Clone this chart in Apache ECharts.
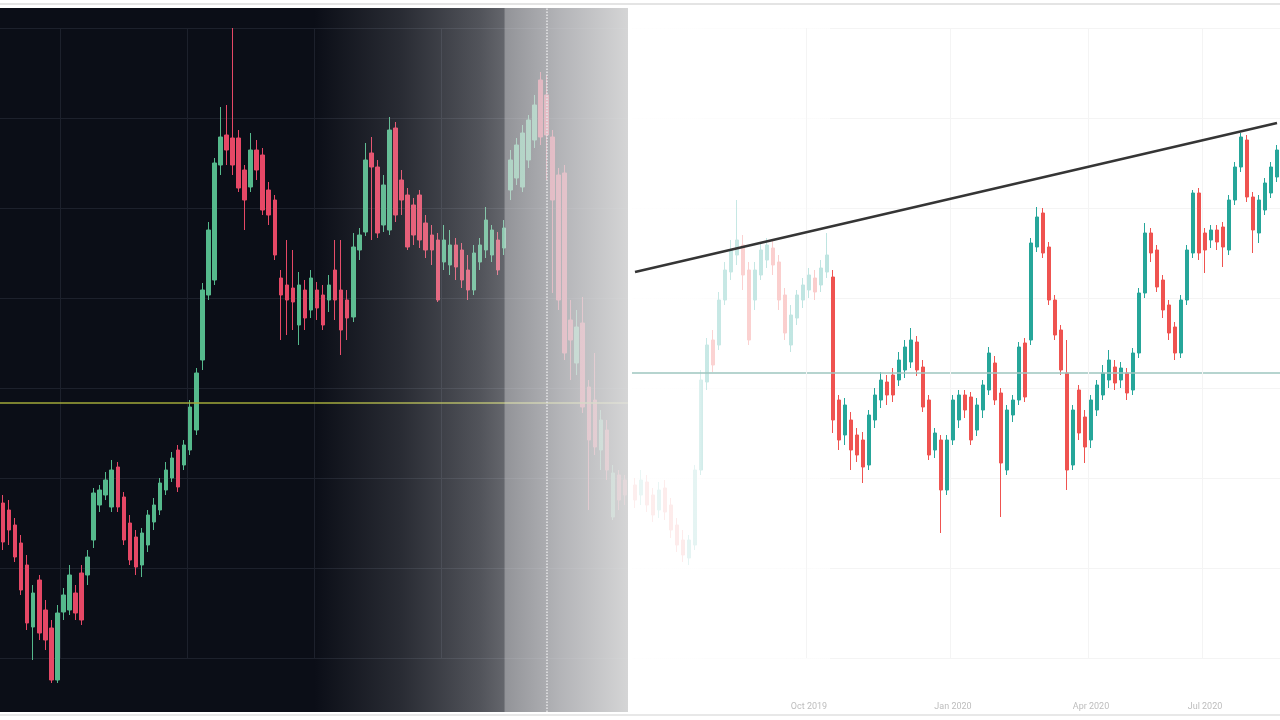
<!DOCTYPE html>
<html>
<head>
<meta charset="utf-8">
<script src="https://cdn.jsdelivr.net/npm/echarts@6/dist/echarts.min.js"></script>
<style>
html,body{margin:0;padding:0;background:#ffffff;}
#c{width:1280px;height:720px;}
</style>
</head>
<body>
<div id="c"></div>
<script>
// ---- Left (dark) chart: [open, close, low, high]
const leftOHLC = [
  [245,206,198,253],[238,218,203,248],[223,191,186,230],[205,158,153,213],[183,125,118,193],
  [121,155,88,163],[168,115,108,173],[138,108,98,148],[120,68,65,128],[68,135,65,143],
  [136,153,128,160],[138,173,133,183],[155,135,128,163],[175,128,123,183],[173,191,163,198],
  [208,255,200,260],[243,258,236,263],[253,268,248,276],[241,278,236,288],[281,241,236,286],
  [251,208,203,256],[225,188,183,233],[211,181,173,218],[183,215,171,220],[203,233,196,238],
  [226,243,218,250],[238,265,233,270],[258,278,253,286],[270,290,266,296],[298,261,256,303],
  [283,303,278,308],[298,341,293,348],[318,375,313,380],[388,458,378,465],[453,518,448,526],
  [468,585,463,590],[583,611,573,641],[613,598,583,643],[610,583,573,720],[610,560,556,618],
  [578,548,518,583],[561,598,556,615],[598,578,568,608],[593,538,533,600],[558,533,523,566],
  [548,493,488,553],[470,453,408,478],[463,448,413,508],[460,446,418,498],[423,463,403,476],
  [458,430,418,468],[438,470,430,478],[458,440,428,466],[453,423,418,463],[448,463,436,473],
  [478,448,428,508],[458,418,393,508],[448,430,408,458],[431,501,426,515],[498,513,488,520],
  [516,588,512,605],[595,581,508,611],[581,515,510,588],[523,563,516,573],[518,618,513,631],
  [620,533,526,626],[568,548,533,578],[553,501,498,560],[543,513,503,550],[553,508,500,558],
  [525,498,490,533],[513,498,483,523],[508,448,446,515],[486,508,478,523],[483,503,473,518],
  [503,481,468,510],[498,468,460,505],[478,458,448,493],[458,495,453,503],[486,503,478,510],
  [498,528,490,541],[493,518,486,523],[508,478,473,516],[500,520,493,528],[558,588,548,598],
  [570,603,563,610],[561,615,556,623],[588,628,580,633],[608,643,600,653],[668,611,603,676],
  [653,613,568,673],[611,548,455,618],[573,448,438,580],[575,395,388,583],[428,408,368,448],
  [385,421,373,438],[425,341,335,451],[361,308,238,368],[348,301,293,395],[298,328,278,338],
  [318,278,268,328],[231,275,228,283],[273,248,238,278],[268,253,243,273]
];
const leftGuideLevel = 345;
const leftCursorIndex = 90;
const leftVGridIndex = [10, 31, 52, 73];

// ---- Right (light) chart: [open, close, low, high]
const rightOHLC = [
  [263,248,240,270],[253,268,243,278],[266,243,236,273],[253,233,226,260],[238,258,230,266],
  [260,236,228,268],[243,218,210,250],[223,203,196,230],[208,193,186,218],[190,208,183,213],
  [203,278,198,283],[278,368,273,378],[366,403,358,410],[408,383,376,418],[403,448,398,456],
  [448,478,443,486],[476,498,468,508],[493,508,483,548],[503,473,458,513],[478,408,403,486],
  [448,478,438,486],[473,498,468,506],[488,503,480,510],[500,483,473,508],[486,448,438,493],
  [453,415,408,460],[403,433,396,443],[430,453,423,458],[448,463,440,470],[458,473,450,480],
  [470,456,448,478],[463,480,456,488],[476,493,470,515],[471,328,315,478],[348,308,298,353],
  [313,343,303,350],[328,298,278,336],[313,293,286,320],[308,281,265,316],[283,333,278,338],
  [328,353,320,360],[348,368,340,376],[366,353,343,373],[373,353,346,380],[368,388,362,396],
  [378,401,370,408],[386,408,380,420],[406,378,372,412],[381,341,336,388],[348,293,288,353],
  [298,315,290,320],[308,258,215,313],[258,308,253,313],[308,348,303,353],[328,353,320,358],
  [353,338,330,358],[351,308,303,356],[318,343,312,350],[338,363,330,368],[358,395,353,401],
  [385,348,343,392],[355,285,231,360],[278,338,273,343],[333,348,326,353],[348,401,343,406],
  [405,351,346,410],[408,505,403,510],[501,531,496,541],[535,495,490,540],[501,448,443,506],
  [448,413,408,453],[418,378,373,423],[375,278,258,408],[283,338,278,343],[358,315,308,363],
  [331,301,285,338],[308,348,300,353],[338,363,332,368],[353,375,348,383],[368,388,360,398],
  [381,365,358,388],[368,380,360,386],[375,355,348,380],[358,395,353,400],[395,455,390,460],
  [455,515,450,525],[515,495,486,520],[498,461,456,503],[468,438,430,473],[443,415,408,448],
  [421,395,388,426],[395,448,390,453],[448,498,443,503],[495,555,490,558],[555,495,488,560],
  [515,498,475,520],[508,518,500,523],[518,506,498,523],[521,501,481,526],[498,548,493,553],
  [548,581,543,586],[581,611,576,615],[608,551,546,613],[551,518,495,556],[515,548,505,553],
  [538,565,533,570],[555,581,550,586],[571,598,566,603]
];
const rightGuideLevel = 375;
const trendEnds = [476, 625];
const rightTickLabels = ['Oct 2019', 'Jan 2020', 'Apr 2020', 'Jul 2020'];
const rightTickIndex = [29, 53, 76, 95];

const leftCats = leftOHLC.map((_, i) => 'L' + i);
const rightCats = rightOHLC.map((_, i) => {
  const k = rightTickIndex.indexOf(i);
  return k >= 0 ? rightTickLabels[k] : 'R' + i;
});

const chart = echarts.init(document.getElementById('c'), null, {renderer: 'canvas'});

const grad = (stops) => new echarts.graphic.LinearGradient(0, 0, 1, 0, stops);
const hiddenAxis = {axisLine: {show: false}, axisTick: {show: false}, axisLabel: {show: false}, splitLine: {show: false}};

chart.setOption({
  animation: false,
  backgroundColor: '#ffffff',
  grid: [
    {left: 0, width: 628, top: 28, height: 630, show: false},
    {left: 632, width: 648, top: 28, height: 630, show: false},
    {left: 0, width: 628, top: 8, height: 704, show: false}
  ],
  xAxis: [
    {
      type: 'category', gridIndex: 0, data: leftCats, boundaryGap: true,
      axisLine: {show: false}, axisTick: {show: false}, axisLabel: {show: false},
      splitLine: {show: true, interval: (i) => leftVGridIndex.indexOf(i) >= 0,
        lineStyle: {color: '#1d212c', width: 1}}
    },
    {
      type: 'category', gridIndex: 1, data: rightCats, boundaryGap: true,
      offset: 44, z: 8,
      axisLine: {show: false}, axisTick: {show: false},
      axisLabel: {show: true, interval: 0, margin: 0, color: '#bdbdbd', fontSize: 9,
        fontFamily: 'Roboto',
        formatter: (v) => (rightTickLabels.indexOf(v) >= 0 ? v : '')},
      splitLine: {show: true, interval: (i) => rightTickIndex.indexOf(i) >= 0,
        lineStyle: {color: '#f4f4f4', width: 1}}
    },
    Object.assign({type: 'category', gridIndex: 2, data: leftCats, boundaryGap: true}, hiddenAxis)
  ],
  yAxis: [
    {
      type: 'value', gridIndex: 0, min: 90, max: 720, interval: 90,
      axisLine: {show: false}, axisTick: {show: false}, axisLabel: {show: false},
      splitLine: {show: true, lineStyle: {color: '#1d212c', width: 1}}
    },
    {
      type: 'value', gridIndex: 1, min: 90, max: 720, interval: 90,
      axisLine: {show: false}, axisTick: {show: false}, axisLabel: {show: false},
      splitLine: {show: true, lineStyle: {color: '#f4f4f4', width: 1}}
    },
    Object.assign({type: 'value', gridIndex: 2, min: 0, max: 1}, hiddenAxis)
  ],
  series: [
    {
      type: 'candlestick', xAxisIndex: 0, yAxisIndex: 0, data: leftOHLC, barWidth: 4,
      z: 2, clip: false,
      itemStyle: {color: '#55b98c', color0: '#e64866', borderColor: '#55b98c',
        borderColor0: '#e64866', borderWidth: 1},
      emphasis: {disabled: true},
      markLine: {
        silent: true, symbol: ['none', 'none'], label: {show: false},
        emphasis: {disabled: true},
        data: [
          {yAxis: leftGuideLevel, lineStyle: {color: '#a2a83a', width: 1.5, type: 'solid'}}
        ]
      }
    },
    {
      type: 'line', xAxisIndex: 2, yAxisIndex: 2, data: [], z: 3, silent: true,
      markLine: {
        silent: true, symbol: ['none', 'none'], label: {show: false},
        emphasis: {disabled: true},
        data: [
          {xAxis: leftCats[leftCursorIndex], lineStyle: {color: '#f4f4f4', width: 1.5, type: 'dotted'}}
        ]
      }
    },
    {
      type: 'candlestick', xAxisIndex: 1, yAxisIndex: 1, data: rightOHLC, barWidth: 4,
      z: 2, clip: false,
      itemStyle: {color: '#26a69a', color0: '#ef5350', borderColor: '#26a69a',
        borderColor0: '#ef5350', borderWidth: 1},
      emphasis: {disabled: true},
      markLine: {
        silent: true, symbol: ['none', 'none'], label: {show: false},
        emphasis: {disabled: true},
        data: [
          {yAxis: rightGuideLevel, lineStyle: {color: '#9ec6bf', width: 1.5, type: 'solid'}}
        ]
      }
    },
    {
      type: 'line', xAxisIndex: 1, yAxisIndex: 1, z: 10,
      data: [[rightCats[0], trendEnds[0]], [rightCats[rightCats.length - 1], trendEnds[1]]],
      symbol: 'none', silent: true,
      lineStyle: {color: '#353535', width: 2.5}
    }
  ],
  graphic: [
    {type: 'rect', z: -10, silent: true,
      shape: {x: 0, y: 8, width: 628, height: 704}, style: {fill: '#0b0e17'}},
    {type: 'rect', z: 50, silent: true,
      shape: {x: 0, y: 8, width: 628, height: 704},
      style: {fill: grad([
        {offset: 0, color: 'rgba(226,226,228,0)'},
        {offset: 0.5, color: 'rgba(226,226,228,0)'},
        {offset: 0.64, color: 'rgba(226,226,228,0.14)'},
        {offset: 0.765, color: 'rgba(226,226,228,0.33)'},
        {offset: 0.802, color: 'rgba(226,226,228,0.41)'},
        {offset: 0.805, color: 'rgba(226,226,228,0.63)'},
        {offset: 0.89, color: 'rgba(226,226,228,0.78)'},
        {offset: 1, color: 'rgba(228,228,228,0.93)'}
      ])}},
    {type: 'rect', z: 5, silent: true,
      shape: {x: 632, y: 8, width: 198, height: 704},
      style: {fill: grad([
        {offset: 0, color: 'rgba(255,255,255,0.9)'},
        {offset: 0.33, color: 'rgba(255,255,255,0.88)'},
        {offset: 0.37, color: 'rgba(255,255,255,0.75)'},
        {offset: 1, color: 'rgba(255,255,255,0.7)'}
      ])}},
    {type: 'rect', z: 100, silent: true, shape: {x: 0, y: 0, width: 1280, height: 8}, style: {fill: '#ffffff'}},
    {type: 'rect', z: 100, silent: true, shape: {x: 0, y: 712, width: 1280, height: 8}, style: {fill: '#ffffff'}},
    {type: 'rect', z: 100, silent: true, shape: {x: 628, y: 0, width: 4, height: 720}, style: {fill: '#ffffff'}},
    {type: 'line', z: 101, silent: true, shape: {x1: 0, y1: 4, x2: 1280, y2: 4}, style: {stroke: '#e4e4e4', lineWidth: 2}},
    {type: 'line', z: 101, silent: true, shape: {x1: 0, y1: 715, x2: 1280, y2: 715}, style: {stroke: '#e8e8e8', lineWidth: 2}}
  ]
});
</script>
</body>
</html>
